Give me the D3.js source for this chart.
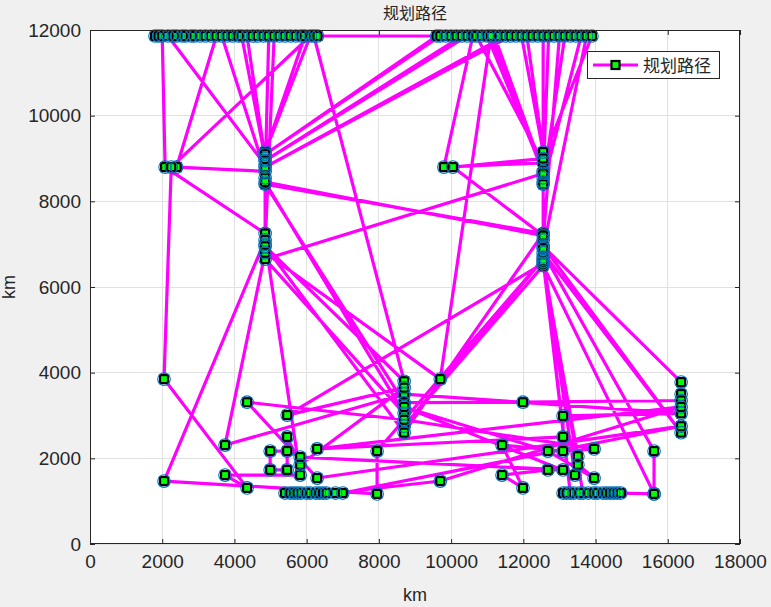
<!DOCTYPE html>
<html><head><meta charset="utf-8">
<script src="https://cdn.jsdelivr.net/npm/d3@7/dist/d3.min.js"></script>
<style>
html,body{margin:0;padding:0;background:#f0f0f0;}
svg{display:block;}
</style></head>
<body>
<script>
// ---- data: planned route, visiting order, [x km, y km] ----
const route = [
[1800,11860],[1900,11860],[2000,11860],
[2080,8800],[4850,7250],[4850,8850],
[2160,11860],[2300,11860],[2400,11860],[2550,11860],[2650,11860],[2800,11860],[2900,11860],[3050,11860],[3200,11860],[3350,11860],[3500,11860],
[2400,8800],[4850,8700],
[3650,11860],[3800,11860],[3950,11860],[4100,11860],[4200,11860],
[4850,9000],
[4350,11860],[4500,11860],[4650,11860],[4800,11860],[4950,11860],
[4850,8550],[4850,7000],
[5100,11860],[5250,11860],[5400,11860],[5550,11860],[5700,11860],[5850,11860],[5950,11860],
[4850,9150],
[6100,11860],
[2250,8800],
[2050,3850],[4350,1310],[3740,1610],[5820,1610],[4850,7100],[2050,1470],[7950,1170],[7950,2170],
[12550,6650],[8700,2750],[12550,6500],[15620,1170],[15620,2170],[12550,6800],[16370,2600],[12550,6950],
[16370,3780],[16370,3500],[16370,3350],[11990,3310],[8700,3300],[4850,8400],[12550,7250],[8700,2600],
[4850,6950],[8700,3800],
[6200,11860],[6300,11860],[9600,11860],
[4850,9100],
[9700,11860],[9850,11860],[10000,11860],[10150,11860],[10300,11860],
[4850,8950],
[10450,11860],[10600,11860],
[9800,8800],[12550,8900],
[10700,11860],[10850,11860],[11000,11860],
[12550,8700],
[11200,11860],[11350,11860],[11500,11860],
[4850,8800],
[11650,11860],[11800,11860],[11950,11860],
[12550,9150],
[12100,11860],[12250,11860],[12400,11860],[12550,11860],
[12550,8550],
[12700,11860],[12850,11860],[13000,11860],
[12550,7100],[12550,8450],
[13150,11860],[13300,11860],[13450,11860],[13600,11860],
[12550,8400],[12550,6900],
[13750,11860],[13900,11860],
[12550,9000],[10050,8800],[12550,7200],[4850,8450],[8700,3050],[4850,6650],[12550,8650],[11100,11860],
[9700,3850],[4850,6800],[3740,2310],[8700,3500],[16370,3050],[13100,2990],[13100,2500],[6290,2220],
[16370,3200],[9700,1470],
[6800,1190],[5400,1190],[5550,1190],[5650,1190],[5750,1190],[5850,1190],[6000,1190],[6100,1190],[6250,1190],[6350,1190],[6450,1190],[6550,1190],[7000,1190],
[16370,2750],[6290,1540],[4350,3310],[8700,2900],[13960,2220],[13100,2170],[11410,2310],[11990,1310],[11410,1610],
[12680,1730],[13100,1730],[5820,2030],[5460,2170],[4990,2170],[4990,1730],[5460,1730],[5460,2500],[5820,1850],
[8700,3650],[5460,3010],[12550,6550],[13510,2050],[13510,1850],[13960,1540],[12680,2170],[8700,3200],[13430,1610],
[12550,6700],[13300,1190],[12550,6600],[13650,1190],
[13100,1190],[13200,1190],[13400,1190],[13550,1190],[13800,1190],[13950,1190],[14050,1190],[14200,1190],[14300,1190],[14400,1190],[14500,1190],[14600,1190],[14700,1190],
[15620,1170]
];
const xTicks = [0,2000,4000,6000,8000,10000,12000,14000,16000,18000];
const yTicks = [0,2000,4000,6000,8000,10000,12000];
const titleText = "规划路径";
const legendText = "规划路径";
const axisLabel = "km";

// ---- drawing ----
const W = 771, H = 607;
const M = {l:90, r:740, t:30, b:544};
const svg = d3.select("body").append("svg").attr("width", W).attr("height", H);
svg.append("rect").attr("width", W).attr("height", H).attr("fill", "#f0f0f0");

const x = d3.scaleLinear().domain([0,18000]).range([M.l, M.r]);
const y = d3.scaleLinear().domain([0,12000]).range([M.b, M.t]);

svg.append("rect").attr("x", M.l).attr("y", M.t).attr("width", M.r-M.l).attr("height", M.b-M.t).attr("fill", "#fff");

// grid
const g = svg.append("g");
g.selectAll("line.gx").data(xTicks).join("line")
  .attr("x1", d=>x(d)).attr("x2", d=>x(d)).attr("y1", M.t).attr("y2", M.b)
  .attr("stroke", "#e1e1e1").attr("stroke-width", 1).attr("shape-rendering","crispEdges");
g.selectAll("line.gy").data(yTicks).join("line")
  .attr("y1", d=>y(d)).attr("y2", d=>y(d)).attr("x1", M.l).attr("x2", M.r)
  .attr("stroke", "#e1e1e1").attr("stroke-width", 1).attr("shape-rendering","crispEdges");

const plot = svg.append("g");
plot.append("path").datum(route)
  .attr("d", d3.line().x(d=>x(d[0])).y(d=>y(d[1])))
  .attr("fill","none").attr("stroke","#ff00ff").attr("stroke-width",3.2).attr("stroke-linejoin","round");

plot.selectAll("rect.mk").data(route).join("rect")
  .attr("x", d=>x(d[0])-4).attr("y", d=>y(d[1])-4).attr("width",8).attr("height",8)
  .attr("fill","#00ff00").attr("stroke","#000").attr("stroke-width",2.2);

plot.selectAll("circle.ci").data(route).join("circle")
  .attr("cx", d=>x(d[0])).attr("cy", d=>y(d[1])).attr("r", 6.3)
  .attr("fill","none").attr("stroke","#0072BD").attr("stroke-width",1.1);

// axes
const font = "'Liberation Sans', Arial, Helvetica, sans-serif";
const ax = svg.append("g").attr("transform", `translate(0,${M.b})`)
  .call(d3.axisBottom(x).tickValues(xTicks).tickSize(-5).tickPadding(11).tickFormat(d3.format("d")));
const ay = svg.append("g").attr("transform", `translate(${M.l},0)`)
  .call(d3.axisLeft(y).tickValues(yTicks).tickSize(-5).tickPadding(9).tickFormat(d3.format("d")));
const at = svg.append("g").attr("transform", `translate(0,${M.t})`)
  .call(d3.axisTop(x).tickValues(xTicks).tickSize(-5).tickFormat(""));
const ar = svg.append("g").attr("transform", `translate(${M.r},0)`)
  .call(d3.axisRight(y).tickValues(yTicks).tickSize(-5).tickFormat(""));
[ax,ay,at,ar].forEach(a=>{
  a.select(".domain").remove();
  a.selectAll(".tick line").attr("stroke","#262626");
  a.selectAll("text").attr("fill","#262626").style("font-family", font).style("font-size","19px");
});
svg.append("rect").attr("x", M.l+0.5).attr("y", M.t+0.5).attr("width", M.r-M.l-1).attr("height", M.b-M.t-1)
  .attr("fill","none").attr("stroke","#262626").attr("stroke-width",1);

// labels
svg.append("text").attr("x", (M.l+M.r)/2).attr("y", 19).attr("text-anchor","middle")
  .style("font-family","'Noto Sans CJK SC', sans-serif").style("font-size","16px").attr("fill","#262626").text(titleText);
svg.append("text").attr("x", (M.l+M.r)/2).attr("y", 601).attr("text-anchor","middle")
  .style("font-family", font).style("font-size","18px").attr("fill","#262626").text(axisLabel);
svg.append("text").attr("transform", `translate(15,${(M.t+M.b)/2}) rotate(-90)`).attr("text-anchor","middle")
  .style("font-family", font).style("font-size","18px").attr("fill","#262626").text(axisLabel);

// legend
const lg = svg.append("g");
lg.append("rect").attr("x",587.5).attr("y",51.5).attr("width",132).attr("height",27)
  .attr("fill","#fff").attr("stroke","#262626").attr("stroke-width",1);
lg.append("line").attr("x1",593).attr("x2",638).attr("y1",65).attr("y2",65)
  .attr("stroke","#ff00ff").attr("stroke-width",3.2);
lg.append("rect").attr("x",611.5).attr("y",61).attr("width",8).attr("height",8)
  .attr("fill","#00ff00").attr("stroke","#000").attr("stroke-width",2.2);
lg.append("text").attr("x",643).attr("y",71.5)
  .style("font-family","'Noto Sans CJK SC', sans-serif").style("font-size","17px").attr("fill","#262626").text(legendText);
</script>
</body></html>
